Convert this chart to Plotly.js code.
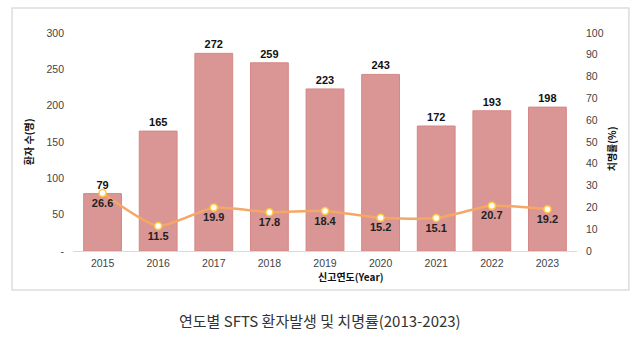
<!DOCTYPE html>
<html>
<head>
<meta charset="utf-8">
<script src="https://cdn.plot.ly/plotly-3.0.1.min.js"></script>
<style>html,body{margin:0;padding:0;background:#fff;}#chart{width:640px;height:344px;}</style>
</head>
<body>
<div id="chart"></div>
<script>
const years = ['2015','2016','2017','2018','2019','2020','2021','2022','2023'];
const patients = [79,165,272,259,223,243,172,193,198];
const fatality = [26.6,11.5,19.9,17.8,18.4,15.2,15.1,20.7,19.2];
const leftTicks = [0,50,100,150,200,250,300];
const leftTickText = ['-','50','100','150','200','250','300'];
const rightTicks = [0,10,20,30,40,50,60,70,80,90,100];

const numFont = "Arial, 'Liberation Sans', 'Noto Sans CJK KR', sans-serif";
const korFont = "'Noto Sans CJK KR', sans-serif";

const traces = [
  {
    type: 'bar', x: years, y: patients,
    marker: {color: '#D99694', line: {color: '#D48886', width: 1}},
    text: patients.map(String), textposition: 'outside', cliponaxis: false,
    textfont: {family: numFont, size: 11, color: '#111', weight: 'bold'},
    hoverinfo: 'skip'
  },
  {
    type: 'scatter', mode: 'lines+markers+text', x: years, y: fatality, yaxis: 'y2',
    line: {color: '#F5A865', width: 2.5, shape: 'spline', smoothing: 0.6},
    marker: {size: 7, color: '#ffffff', line: {color: '#FFC845', width: 1.5}},
    text: fatality.map(v => v.toFixed(1)), textposition: 'bottom center', cliponaxis: false,
    textfont: {family: numFont, size: 11, color: '#222', weight: 'bold'},
    hoverinfo: 'skip'
  }
];

const layout = {
  width: 640, height: 344,
  margin: {l: 73, r: 63, t: 33, b: 93},
  paper_bgcolor: '#fff', plot_bgcolor: 'rgba(0,0,0,0)',
  showlegend: false, bargap: 0.32,
  font: {family: numFont, size: 10, color: '#444'},
  xaxis: {
    type: 'category', showgrid: false, zeroline: false,
    showline: true, linecolor: '#d9d9d9', linewidth: 1,
    ticks: '', tickfont: {family: numFont, size: 10.5, color: '#444'}, ticklabelstandoff: 2
  },
  yaxis: {
    range: [0, 300], tickvals: leftTicks, ticktext: leftTickText,
    showgrid: false, zeroline: false, showline: false, ticks: '',
    tickfont: {family: numFont, size: 10.5, color: '#444'}, ticklabelstandoff: 8
  },
  yaxis2: {
    range: [0, 100], overlaying: 'y', side: 'right', tickvals: rightTicks,
    showgrid: false, zeroline: false, showline: false, ticks: '',
    tickfont: {family: numFont, size: 10.5, color: '#444'}, ticklabelstandoff: 8
  },
  shapes: [
    {type: 'rect', xref: 'paper', yref: 'paper', x0: -0.121, x1: 1.103, y0: -0.179, y1: 1.115,
     line: {color: '#dddddd', width: 1.5}, fillcolor: 'rgba(0,0,0,0)', layer: 'below'}
  ],
  annotations: [
    {xref: 'paper', yref: 'paper', x: 0.552, y: -0.115, xanchor: 'center', yanchor: 'middle',
     text: '신고연도(Year)', showarrow: false, font: {family: korFont, size: 10, color: '#111', weight: 'bold'}},
    {xref: 'paper', yref: 'paper', x: -0.089, y: 0.5, xanchor: 'center', yanchor: 'middle', textangle: -90,
     text: '환자 수(명)', showarrow: false, font: {family: korFont, size: 10, color: '#111', weight: 'bold'}},
    {xref: 'paper', yref: 'paper', x: 1.069, y: 0.47, xanchor: 'center', yanchor: 'middle', textangle: -90,
     text: '치명률(%)', showarrow: false, font: {family: korFont, size: 10, color: '#111', weight: 'bold'}},
    {xref: 'paper', yref: 'paper', x: 0.49, y: -0.317, xanchor: 'center', yanchor: 'middle',
     text: '연도별 SFTS 환자발생 및 치명률(2013-2023)', showarrow: false,
     font: {family: korFont, size: 15, color: '#333'}}
  ]
};

Plotly.newPlot('chart', traces, layout, {staticPlot: true, displayModeBar: false});
</script>
</body>
</html>
